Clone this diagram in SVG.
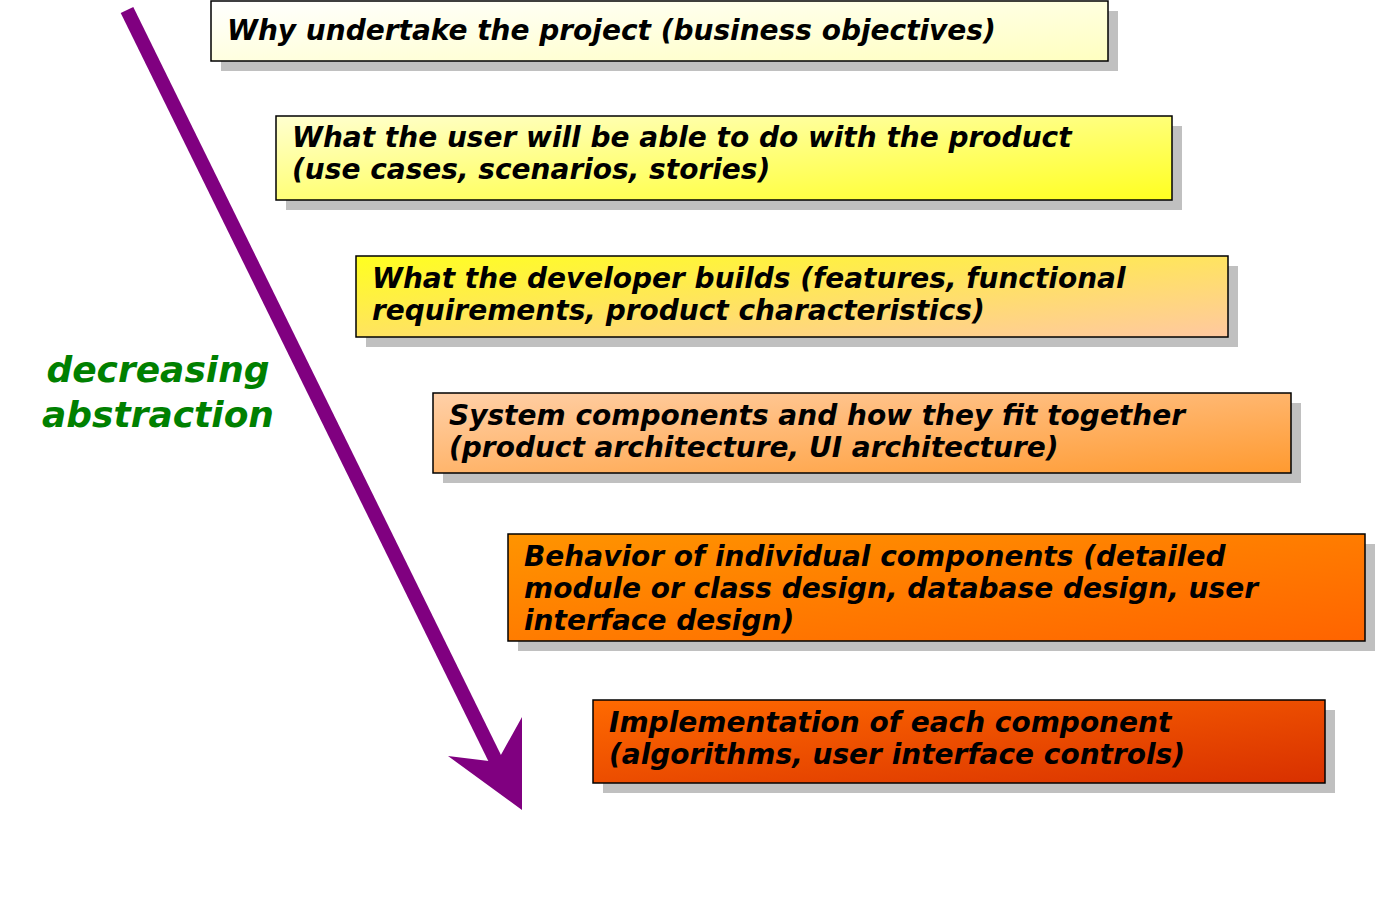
<svg xmlns="http://www.w3.org/2000/svg" width="1377" height="898" viewBox="0 0 1377 898">
<style>
.sh{fill:#c0c0c0}
.bx{stroke:#000;stroke-width:1.5}
.t{font-family:"DejaVu Sans",Verdana,sans-serif;font-weight:bold;font-style:italic;font-size:28px;fill:#000}
.g{font-family:"DejaVu Sans",Verdana,sans-serif;font-weight:bold;font-style:italic;font-size:36px;fill:#008000;text-anchor:middle}
</style>
<defs>
<linearGradient id="g1" x1="0" y1="0" x2="1" y2="1"><stop offset="0" stop-color="#ffffff"/><stop offset="1" stop-color="#ffffc0"/></linearGradient>
<linearGradient id="g2" x1="0" y1="0" x2="1" y2="1"><stop offset="0" stop-color="#ffffd0"/><stop offset="1" stop-color="#ffff20"/></linearGradient>
<linearGradient id="g3" x1="0" y1="0" x2="1" y2="1"><stop offset="0" stop-color="#ffff20"/><stop offset="1" stop-color="#ffc8a0"/></linearGradient>
<linearGradient id="g4" x1="0" y1="0" x2="1" y2="1"><stop offset="0" stop-color="#ffd0a8"/><stop offset="1" stop-color="#ff9a30"/></linearGradient>
<linearGradient id="g5" x1="0" y1="0" x2="1" y2="1"><stop offset="0" stop-color="#ff9400"/><stop offset="1" stop-color="#ff6400"/></linearGradient>
<linearGradient id="g6" x1="0" y1="0" x2="1" y2="1"><stop offset="0" stop-color="#ff6a00"/><stop offset="1" stop-color="#d83000"/></linearGradient>
</defs>
<g id="connectors">
<line x1="127" y1="10" x2="503" y2="775" stroke="#800080" stroke-width="14"/>
<polygon points="522,810 448,756 497,762 522,717" fill="#800080"/>
</g>
<g id="label"><text class="g" x="158" y="382">decreasing</text><text class="g" x="158" y="427">abstraction</text></g>
<g id="n1"><rect class="sh" x="221" y="11" width="897" height="60"/><rect class="bx" x="211" y="1" width="897" height="60" fill="url(#g1)"/><text class="t" x="227" y="40">Why undertake the project (business objectives)</text></g>
<g id="n2"><rect class="sh" x="286" y="126" width="896" height="84"/><rect class="bx" x="276" y="116" width="896" height="84" fill="url(#g2)"/><text class="t" x="292" y="147">What the user will be able to do with the product</text><text class="t" x="292" y="179">(use cases, scenarios, stories)</text></g>
<g id="n3"><rect class="sh" x="366" y="266" width="872" height="81"/><rect class="bx" x="356" y="256" width="872" height="81" fill="url(#g3)"/><text class="t" x="372" y="288">What the developer builds (features, functional</text><text class="t" x="372" y="320">requirements, product characteristics)</text></g>
<g id="n4"><rect class="sh" x="443" y="403" width="858" height="80"/><rect class="bx" x="433" y="393" width="858" height="80" fill="url(#g4)"/><text class="t" x="449" y="425">System components and how they fit together</text><text class="t" x="449" y="457">(product architecture, UI architecture)</text></g>
<g id="n5"><rect class="sh" x="518" y="544" width="857" height="107"/><rect class="bx" x="508" y="534" width="857" height="107" fill="url(#g5)"/><text class="t" x="524" y="566">Behavior of individual components (detailed</text><text class="t" x="524" y="598">module or class design, database design, user</text><text class="t" x="524" y="630">interface design)</text></g>
<g id="n6"><rect class="sh" x="603" y="710" width="732" height="83"/><rect class="bx" x="593" y="700" width="732" height="83" fill="url(#g6)"/><text class="t" x="609" y="732">Implementation of each component</text><text class="t" x="609" y="764">(algorithms, user interface controls)</text></g>
</svg>
